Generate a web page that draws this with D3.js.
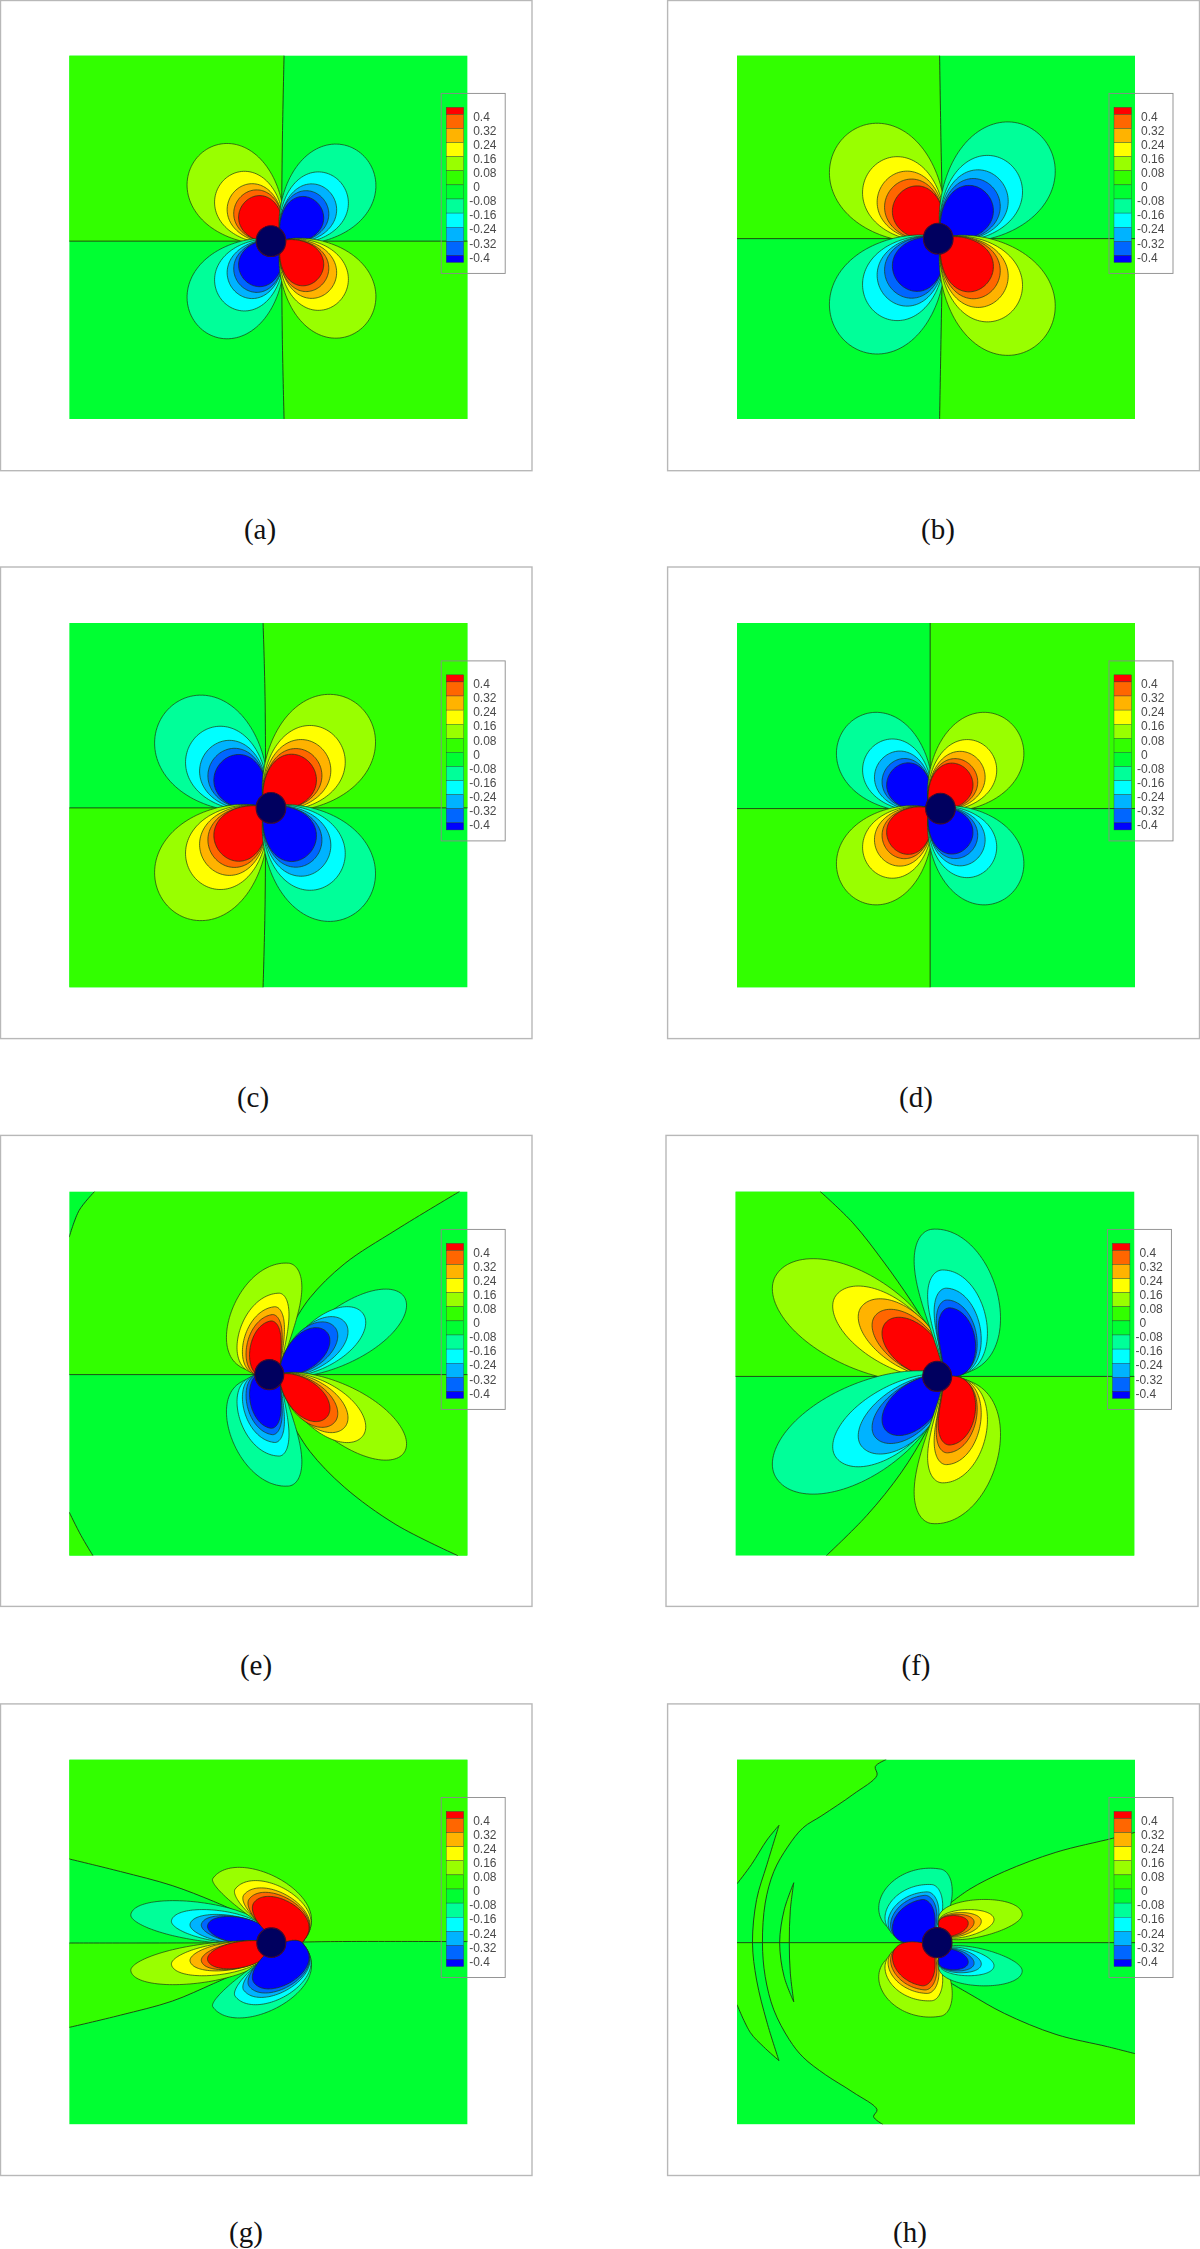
<!DOCTYPE html>
<html><head><meta charset="utf-8">
<script src="https://cdn.jsdelivr.net/npm/d3@7/dist/d3.min.js"></script>
<style>html,body{margin:0;padding:0;background:#fff}svg{display:block}</style>
</head><body><svg id="c" width="1200" height="2249"></svg>
<script>
// Contour levels and colours (legend)
const levelLabels=['0.4','0.32','0.24','0.16','0.08','0','-0.08','-0.16','-0.24','-0.32','-0.4'];
const levelValues=[0.4,0.32,0.24,0.16,0.08,0,-0.08,-0.16,-0.24,-0.32,-0.4];
const bandEdges=[0.44,0.4,0.32,0.24,0.16,0.08,0,-0.08,-0.16,-0.24,-0.32,-0.4,-0.44];
const bandColors=['#ff0000','#ff6600','#ffb300','#ffff00','#99ff00','#33ff00','#00ff33','#00ff99','#00ffff','#00b3ff','#0066ff','#0000ff'];
const posFills=['#99ff00','#ffff00','#ffb300','#ff6600','#ff0000'];
const negFills=['#00ff99','#00ffff','#00b3ff','#0066ff','#0000ff'];
const captions=['(a)','(b)','(c)','(d)','(e)','(f)','(g)','(h)'];
const captionX=[260,938,253,916,256,916,246,910];
const captionY=[539,539,1107,1107,1675,1675,2242,2242];
const frameX=[[0.5,532],[667.6,1199.5],[0.5,532],[667.6,1199.5],[0.5,532],[666,1198],[0.5,532],[667.6,1199.5]];
const frameY=[[0.5,470.7],[0.5,470.7],[567,1038.6],[567,1038.6],[1135.4,1606.4],[1135.4,1606.4],[1703.9,2175.5],[1703.9,2175.5]];
const plotX=[[69.2,467.6],[737,1135],[69.2,467.6],[737,1135],[69.2,467.6],[735.4,1134.5],[69.2,467.6],[737,1135]];
const plotY=[[55.4,419],[55.4,419],[622.9,987.5],[622.9,987.5],[1191.4,1555.7],[1191.4,1555.7],[1759.5,2124.4],[1759.5,2124.4]];
// Field-grid extents of each panel
const gridX=[[201,1358],[223,1380],[201,1358],[224,1380],[201,1358],[219,1378],[201,1358],[223,1380]];
const gridY=[[155,1173],[155,1173],[176,1197],[176,1197],[172,1192],[172,1192],[170,1212],[170,1212]];
const axisY=[675,668,694,696,685,690,693,693];      // wake-line row
const bodyCentre=[787,808,787,815,782,805,788,805]; // cylinder centre
const bodyRadius=[43,43,43,43,42,42,42,43];

// Upper lobes of each panel; lower lobes are their mirror with opposite sign.
// rows: far point x, far point y, width left, width right, for levels 0.08 .. 0.4
const lobesA=[
 {o:[818,675],k:[.55,.55],s:1,rows:[[577,436,120,120],[649,505,88,88],[682,535,73,73],[700,550,66,66],[712,565,60,60]]},
 {o:[818,675],k:[.55,.55],s:-1,rows:[[1058,438,120,120],[986,507,88,88],[956,536,73,73],[934,552,65,65],[921,567,59,59]]}];
const lobesB=[
 {o:[820,668],k:[.55,.55],s:1,rows:[[531,387,143,143],[617,469,103,103],[656,505,87,87],[675,525,78,78],[697,541,70,70]]},
 {o:[820,668],k:[.55,.55],s:-1,rows:[[1108,382,143,143],[1023,465,104,104],[985,501,88,88],[965,523,78,78],[947,540,70,70]]}];
const lobesC=[
 {o:[770,694],k:[.55,.55],s:-1,rows:[[487,419,139,139],[568,496,103,103],[605,531,87,87],[627,550,77,77],[643,566,71,71]]},
 {o:[770,694],k:[.55,.55],s:1,rows:[[1052,416,139,139],[973,494,104,104],[935,528,87,87],[912,550,76,76],[897,565,71,71]]}];
const lobesD=[
 {o:[785,696],k:[.55,.55],s:-1,rows:[[546,461,119,119],[614,527,88,88],[645,557,74,74],[665,575,65,65],[678,586,61,61]]},
 {o:[785,696],k:[.55,.55],s:1,rows:[[1024,461,119,119],[953,528,87,87],[923,557,73,73],[903,575,65,65],[890,586,60,60]]}];
const lobesE=[
 {o:[815,685],k:[-.5,2],s:1,rows:[[838,373,165,44],[810,457,125,28],[797,495,105,24],[790,517,92,22],[785,535,80,22]]},
 {o:[815,685],k:[.45,.45],s:-1,rows:[[1175,469,78,78],[1055,515,68,64],[1003,540,60,56],[973,553,56,50],[950,567,50,46]]}];
const lobesF=[
 {o:[825,690],k:[.4,.2],s:1,rows:[[335,410,118,140],[510,465,80,98],[585,495,68,85],[625,520,60,72],[655,540,58,64]]},
 {o:[825,690],k:[2,-.3],s:-1,rows:[[790,278,60,178],[820,392,44,128],[832,443,34,105],[835,476,30,92],[843,498,30,84]]}];
const lobesG=[
 {o:[780,693],k:[.6,-.3],s:-1,rows:[[380,612,36,75],[498,630,30,60],[552,640,28,52],[585,640,27,48],[603,643,28,48]]},
 {o:[880,690],k:[0,-.3],s:1,rows:[[618,510,28,110],[683,540,34,90],[708,557,36,78],[724,568,40,72],[738,578,44,66]]}];
const lobesH=[
 {o:[780,690],k:[-.35,.5],s:-1,rows:[[815,483,160,46],[788,527,130,36],[775,548,116,33],[768,558,106,31],[760,570,98,30]]},
 {o:[810,650],k:[-.4,-.4],s:1,rows:[[1052,610,62,46],[970,625,40,38],[933,630,34,34],[912,632,30,32],[895,635,28,30]]}];

// Zero contour: areas of slightly positive value (the rest is slightly negative)
const posA=[[[201,155],[825,155],[820,400],[818,675],[201,675]],[[825,1173],[820,950],[818,675],[1358,675],[1358,1173]]];
const posB=[[[223,155],[812,155],[816,400],[820,600],[820,668],[223,668]],[[820,668],[820,720],[816,950],[812,1173],[1380,1173],[1380,668]]];
const posC=[[[764,176],[770,400],[770,694],[1358,694],[1358,176]],[[201,694],[770,694],[770,950],[764,1197],[201,1197]]];
const posD=[[[785,176],[785,696],[1380,696],[1380,176]],[[224,696],[785,696],[785,1197],[224,1197]]];
const posE=[[[275,172],[1335,172],[1150,280],[1000,375],[900,470],[840,560],[815,600],[815,685],[201,685],[201,300],[230,225]],
 [[815,685],[815,770],[835,800],[900,900],[1000,1000],[1150,1105],[1330,1192],[1358,1192],[1358,685]],
 [[201,1070],[235,1135],[270,1192],[201,1192]]];
const posF=[[[219,172],[465,172],[560,260],[650,370],[730,480],[795,580],[825,690],[219,690]],
 [[483,1192],[600,1080],[700,960],[770,850],[800,790],[825,690],[1378,690],[1378,1192]]];
const posG=[[[201,170],[1358,170],[1358,690],[780,693],[700,610],[620,575],[500,530],[350,490],[201,454]],
 [[201,694],[780,693],[700,775],[620,810],[500,860],[350,900],[201,935]]];
const posH=[[[223,170],[657,170],[625,190],[630,215],[560,270],[470,330],[415,365],[370,420],[330,490],[305,580],[297,693],[268,693],[280,570],[310,470],[345,358],[345,358],[310,400],[265,470],[223,525]],
 [[388,522],[388,522],[378,600],[375,693],[347,693],[360,600]],
 [[830,590],[900,540],[1000,490],[1150,435],[1315,395],[1380,378],[1380,693],[800,693]],
 [[223,693],[268,693],[280,800],[310,920],[345,1030],[345,1030],[300,990],[262,950],[223,870]],
 [[297,693],[305,790],[330,885],[375,970],[415,1020],[480,1070],[560,1120],[630,1170],[620,1190],[647,1212],[1380,1212],[1380,1010],[1300,990],[1150,955],[1000,895],[900,840],[830,800],[800,693],[375,693],[378,780],[388,862],[388,862],[360,790],[347,693]]];

// Zero contour lines
const lineA=[[[201,675],[1358,675]],[[825,155],[820,400],[818,675],[820,950],[825,1173]]];
const lineB=[[[223,668],[1380,668]],[[812,155],[816,400],[820,600],[820,720],[816,950],[812,1173]]];
const lineC=[[[201,694],[1358,694]],[[764,176],[770,400],[770,950],[764,1197]]];
const lineD=[[[224,696],[1380,696]],[[785,176],[785,1197]]];
const lineE=[[[201,685],[1358,685]],[[1335,172],[1150,280],[1000,375],[900,470],[840,560],[815,600]],[[1330,1192],[1150,1105],[1000,1000],[900,900],[835,800],[815,770]],[[201,300],[230,225],[275,172]],[[201,1070],[235,1135],[270,1192]]];
const lineF=[[[219,690],[1378,690]],[[465,172],[560,260],[650,370],[730,480],[795,580]],[[483,1192],[600,1080],[700,960],[770,850],[800,790]]];
const lineG=[[[201,694],[780,693],[960,690],[1358,690]],[[201,454],[350,490],[500,530],[620,575],[700,610]],[[201,935],[350,900],[500,860],[620,810],[700,775]]];
const lineH=[[[223,693],[1380,693]],
 [[657,170],[625,190],[630,215],[560,270],[470,330],[415,365],[370,420],[330,490],[305,580],[297,693],[305,790],[330,885],[375,970],[415,1020],[480,1070],[560,1120],[630,1170],[620,1190],[647,1212]],
 [[830,590],[900,540],[1000,490],[1150,435],[1315,395],[1380,378]],
 [[830,800],[900,840],[1000,895],[1150,955],[1300,990],[1380,1010]],
 [[223,525],[265,470],[310,400],[345,358],[345,358],[310,470],[280,570],[268,693],[280,800],[310,920],[345,1030],[345,1030],[300,990],[262,950],[223,870]],
 [[388,522],[388,522],[360,600],[347,693],[360,790],[388,862],[388,862],[378,780],[375,693],[378,600],[388,522]]];

const panelLobes=[lobesA,lobesB,lobesC,lobesD,lobesE,lobesF,lobesG,lobesH];
const panelPos=[posA,posB,posC,posD,posE,posF,posG,posH];
const panelLines=[lineA,lineB,lineC,lineD,lineE,lineF,lineG,lineH];

const svg=d3.select('#c');
const defs=svg.append('defs');
defs.append('filter').attr('id','soft').attr('x','-5%').attr('y','-5%').attr('width','110%').attr('height','110%')
  .append('feGaussianBlur').attr('stdDeviation',0.5);

function peak(k){let m=0;for(let i=1;i<200;i++){const u=Math.PI*i/200;m=Math.max(m,Math.sin(u)*Math.pow(Math.sin(u/2),k));}return m;}
function lobePath(o,row,k,N=60){
  const [fx,fy,wl,wr]=row;const dx=fx-o[0],dy=fy-o[1],L=Math.hypot(dx,dy),ux=dx/L,uy=dy/L;
  const lx=uy,ly=-ux;const pL=peak(k[0]),pR=peak(k[1]);const pts=[[o[0],o[1]]];
  const at=(u,s,w,kk,p)=>{const a=L*(1-Math.cos(u))/2,c=s*w*Math.sin(u)*Math.pow(Math.sin(u/2),kk)/p;return [o[0]+ux*a+lx*c,o[1]+uy*a+ly*c];};
  for(let i=1;i<=N;i++)pts.push(at(Math.PI*i/N,1,wl,k[0],pL));
  for(let i=N-1;i>=1;i--)pts.push(at(Math.PI*i/N,-1,wr,k[1],pR));
  return pts;
}
const lineColor='#1d3a14';

captions.forEach((cap,i)=>{
  const X=d3.scaleLinear().domain(gridX[i]).range(plotX[i]);
  const Y=d3.scaleLinear().domain(gridY[i]).range(plotY[i]);
  const path=d3.line().x(d=>X(d[0])).y(d=>Y(d[1]));
  const smooth=d3.line().x(d=>X(d[0])).y(d=>Y(d[1])).curve(d3.curveCatmullRom.alpha(.5));
  // corners of a region lie on the plot border or on the wake row
  const corners=pts=>pts.flatMap(q=>(q[0]===gridX[i][0]||q[0]===gridX[i][1]||q[1]===gridY[i][0]||q[1]===gridY[i][1]||Math.abs(q[1]-axisY[i])<=1)?[q,q]:[q]);
  const g=svg.append('g').attr('class','panel');
  g.append('rect').attr('x',frameX[i][0]).attr('y',frameY[i][0]).attr('width',frameX[i][1]-frameX[i][0]).attr('height',frameY[i][1]-frameY[i][0])
    .attr('fill','#fff').attr('stroke','#b8b8b8').attr('stroke-width',1.4);
  const cid='clip'+i;
  defs.append('clipPath').attr('id',cid).append('rect').attr('x',plotX[i][0]).attr('y',plotY[i][0]).attr('width',plotX[i][1]-plotX[i][0]).attr('height',plotY[i][1]-plotY[i][0]);
  const p=g.append('g').attr('filter','url(#soft)').append('g').attr('clip-path',`url(#${cid})`);
  p.append('rect').attr('x',plotX[i][0]).attr('y',plotY[i][0]).attr('width',plotX[i][1]-plotX[i][0]).attr('height',plotY[i][1]-plotY[i][0]).attr('fill',bandColors[6]);
  p.selectAll('path.pos').data(panelPos[i]).join('path').attr('class','pos').attr('d',d=>smooth(corners(d))+'Z').attr('fill',bandColors[5]);
  p.selectAll('path.zero').data(panelLines[i]).join('path').attr('class','zero').attr('d',d=>smooth(d)).attr('fill','none').attr('stroke',lineColor).attr('stroke-width',.9);
  const y0=axisY[i];
  panelLobes[i].forEach(lobe=>{
    [1,-1].forEach(m=>{
      lobe.rows.forEach((row,li)=>{
        let pts=lobePath(lobe.o,row,lobe.k);
        if(m<0)pts=pts.map(q=>[q[0],2*y0-q[1]]);
        const sign=lobe.s*m;
        p.append('path').attr('d',path(pts)+'Z').attr('fill',(sign>0?posFills:negFills)[li]).attr('stroke',lineColor).attr('stroke-width',.7).attr('stroke-linejoin','round');
      });
    });
  });
  p.append('ellipse').attr('cx',X(bodyCentre[i])).attr('cy',Y(y0))
    .attr('rx',X(bodyCentre[i]+bodyRadius[i])-X(bodyCentre[i])).attr('ry',Y(y0+bodyRadius[i])-Y(y0))
    .attr('fill','#00005f').attr('stroke','#3a0a30').attr('stroke-width',1.2);

  // legend
  const lx0=plotX[i][0]+372, ly0=plotY[i][0]+38;
  const leg=g.append('g').attr('filter','url(#soft)');
  const LY=d3.scaleLinear().domain([0.4,-0.4]).range([ly0+21,ly0+162]);
  leg.append('rect').attr('x',lx0).attr('y',ly0).attr('width',64).attr('height',180).attr('fill','none').attr('stroke','#8a8a8a').attr('stroke-width',.9);
  leg.selectAll('rect.band').data(bandColors).join('rect').attr('class','band')
    .attr('x',lx0+5).attr('width',17.5).attr('y',(d,j)=>LY(bandEdges[j])).attr('height',(d,j)=>LY(bandEdges[j+1])-LY(bandEdges[j]))
    .attr('fill',d=>d).attr('stroke','#334').attr('stroke-width',.35);
  leg.selectAll('text').data(levelLabels).join('text')
    .attr('x',d=>lx0+(d[0]==='-'?28:32)).attr('y',(d,j)=>LY(levelValues[j])+6.2)
    .attr('font-family','"Liberation Sans",Arial,sans-serif').attr('font-size',12).attr('fill','#4a4a4a').text(d=>d);

  g.append('text').attr('x',captionX[i]).attr('y',captionY[i]).attr('text-anchor','middle')
    .attr('font-family','"Liberation Serif","Times New Roman",serif').attr('font-size',29).attr('fill','#111').text(cap);
});
</script></body></html>
